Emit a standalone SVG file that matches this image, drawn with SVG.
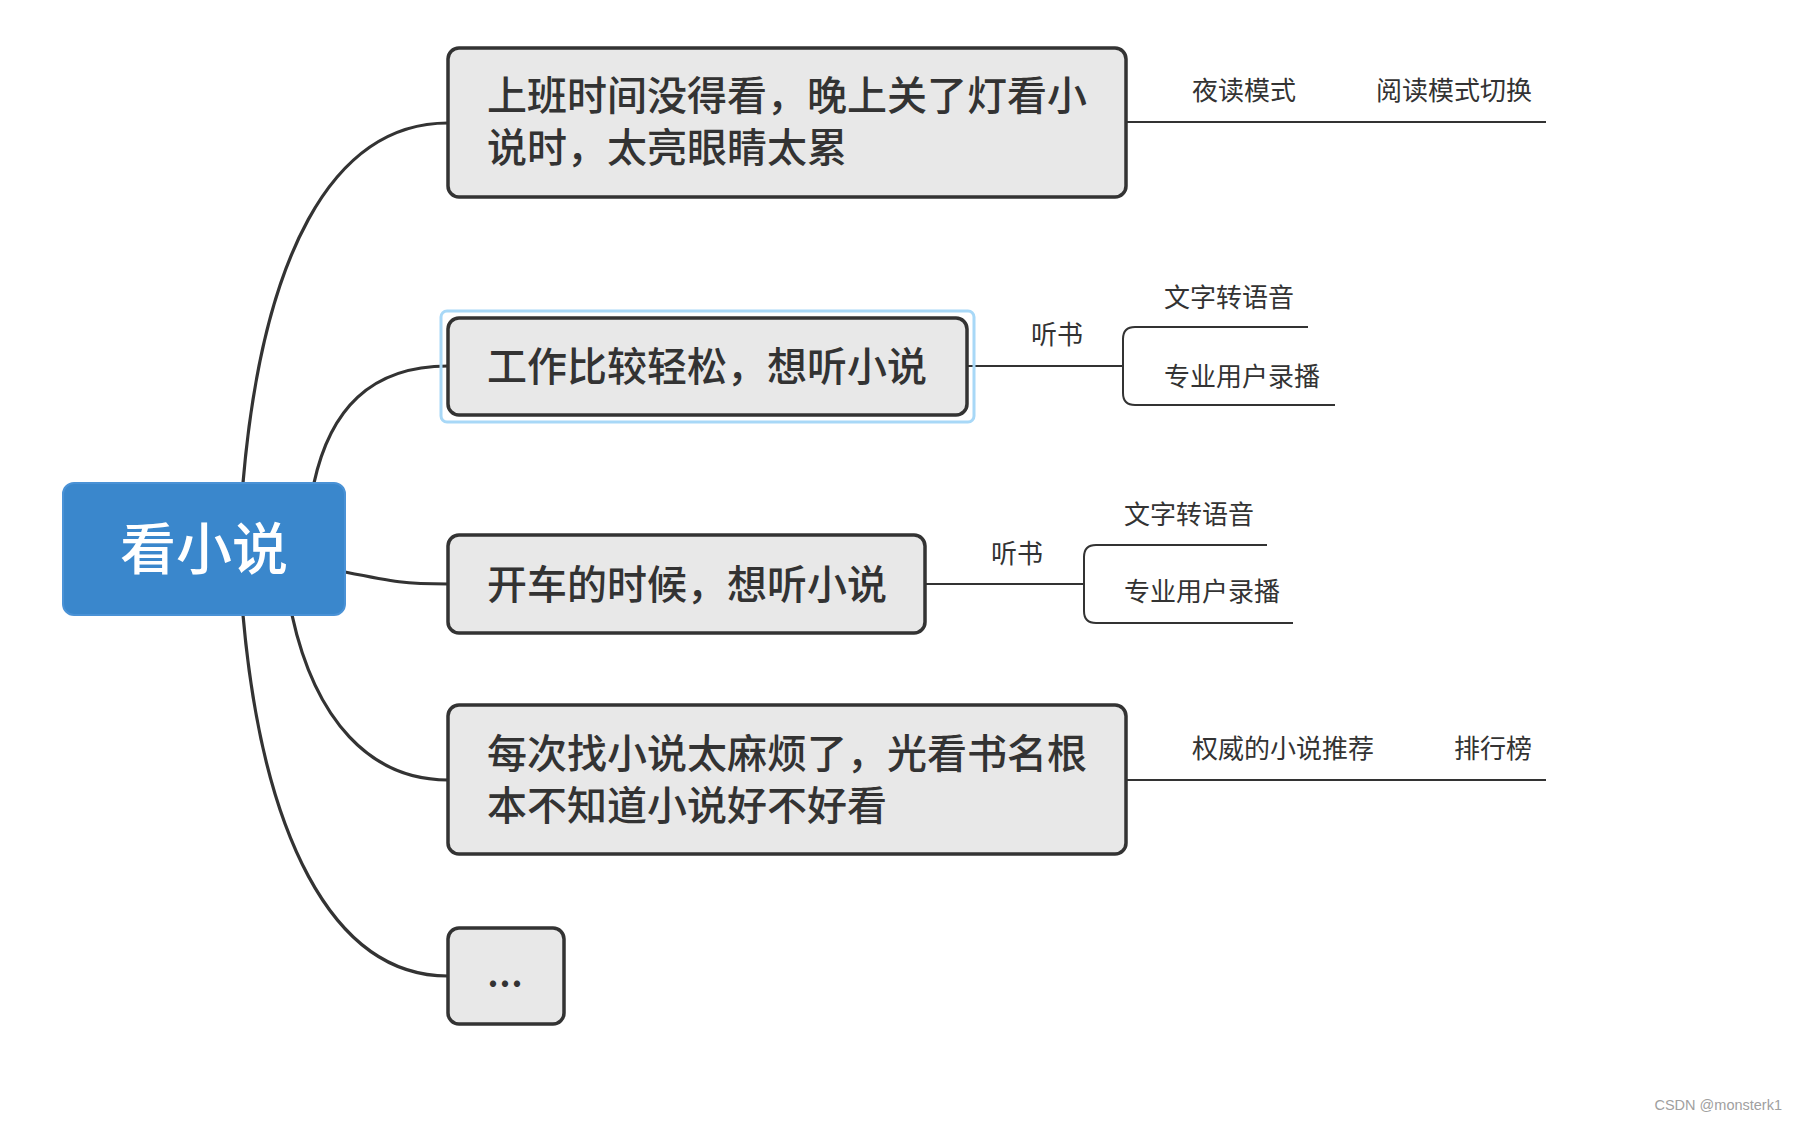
<svg xmlns="http://www.w3.org/2000/svg" width="1798" height="1122" viewBox="0 0 1798 1122">
<style>
.node{fill:#e8e8e8;stroke:#333;stroke-width:3.5}
.t{font-family:"Noto Sans CJK SC","Liberation Sans",sans-serif;fill:#333;font-size:40px;font-weight:500}
.s{font-family:"Noto Sans CJK SC","Liberation Sans",sans-serif;fill:#333;font-size:26px}
.main{fill:none;stroke:#333;stroke-width:3.2}
.sub{fill:none;stroke:#333;stroke-width:2}
</style>
<rect width="1798" height="1122" fill="#ffffff"/>
<g id="connectors">
<path class="main" d="M 243 483 C 262 260, 330 123, 448 123"/>
<path class="main" d="M 314 483 C 330 410, 370 366, 448 366"/>
<path class="main" d="M 345 572 C 395 582, 405 584, 448 584"/>
<path class="main" d="M 292 615 C 315 720, 370 780, 448 780"/>
<path class="main" d="M 243 615 C 262 830, 330 976, 448 976"/>
<path class="sub" d="M 1126 122 H 1546"/>
<path class="sub" d="M 967 366 H 1123"/>
<path class="sub" d="M 1308 327 H 1135 Q 1123 327 1123 339 V 393 Q 1123 405 1135 405 H 1335"/>
<path class="sub" d="M 925 584 H 1084"/>
<path class="sub" d="M 1267 545 H 1096 Q 1084 545 1084 557 V 611 Q 1084 623 1096 623 H 1293"/>
<path class="sub" d="M 1126 780 H 1546"/>
</g>
<g id="root">
<rect x="63" y="483" width="282" height="132" rx="11" fill="#3a87cc" stroke="#4a92d6" stroke-width="2"/>
<text x="204" y="569" text-anchor="middle" font-family="Noto Sans CJK SC, Liberation Sans, sans-serif" font-size="56" font-weight="500" fill="#ffffff">看小说</text>
</g>
<g id="node1">
<rect class="node" x="448" y="48" width="678" height="149" rx="11"/>
<text class="t" x="487" y="110"><tspan x="487" y="110">上班时间没得看，晚上关了灯看小</tspan><tspan x="487" y="162">说时，太亮眼睛太累</tspan></text>
</g>
<g id="node2">
<rect x="441" y="311" width="533" height="111" rx="6" fill="none" stroke="#a8d8f7" stroke-width="3"/>
<rect class="node" x="448" y="318" width="519" height="97" rx="11"/>
<text class="t" x="487" y="381">工作比较轻松，想听小说</text>
</g>
<g id="node3">
<rect class="node" x="448" y="535" width="477" height="98" rx="11"/>
<text class="t" x="487" y="599">开车的时候，想听小说</text>
</g>
<g id="node4">
<rect class="node" x="448" y="705" width="678" height="149" rx="11"/>
<text class="t" x="487" y="768"><tspan x="487" y="768">每次找小说太麻烦了，光看书名根</tspan><tspan x="487" y="820">本不知道小说好不好看</tspan></text>
</g>
<g id="node5">
<rect class="node" x="448" y="928" width="116" height="96" rx="11"/>
<text class="t" x="505" y="986" text-anchor="middle">...</text>
</g>
<g id="labels">
<text class="s" x="1192" y="100">夜读模式</text>
<text class="s" x="1376" y="100">阅读模式切换</text>
<text class="s" x="1057" y="344" text-anchor="middle">听书</text>
<text class="s" x="1164" y="307">文字转语音</text>
<text class="s" x="1164" y="386">专业用户录播</text>
<text class="s" x="1017" y="563" text-anchor="middle">听书</text>
<text class="s" x="1124" y="524">文字转语音</text>
<text class="s" x="1124" y="601">专业用户录播</text>
<text class="s" x="1192" y="758">权威的小说推荐</text>
<text class="s" x="1454" y="758">排行榜</text>
</g>
<text x="1782" y="1110" text-anchor="end" font-family="Liberation Sans, sans-serif" font-size="14.5" fill="#a0a0a0">CSDN @monsterk1</text>
</svg>
